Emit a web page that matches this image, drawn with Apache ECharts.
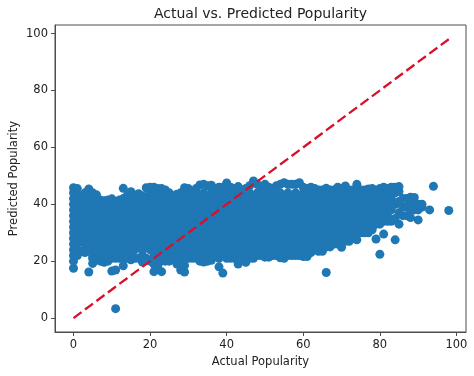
<!DOCTYPE html>
<html>
<head>
<meta charset="utf-8">
<style>
  html, body { margin: 0; padding: 0; background: #fff; }
  #chart { width: 474px; height: 376px; }
</style>
<script src="https://cdn.jsdelivr.net/npm/echarts@6/dist/echarts.min.js"></script>
</head>
<body>
<div id="chart"></div>
<script>
// tick labels of both axes
const xTicks = [0, 20, 40, 60, 80, 100];
const yTicks = [0, 20, 40, 60, 80, 100];

// reference line y = x, from lowest to highest actual value
const lineStart = [0, 0];
const lineEnd = [98, 98];

// actual popularity of each column of points
const actual = [
  0, 1, 2, 3, 4, 5, 6, 7, 8, 9,
  10, 11, 12, 13, 14, 15, 16, 17, 18, 19,
  20, 21, 22, 23, 24, 25, 26, 27, 28, 29,
  30, 31, 32, 33, 34, 35, 36, 37, 38, 39,
  40, 41, 42, 43, 44, 45, 46, 47, 48, 49,
  50, 51, 52, 53, 54, 55, 56, 57, 58, 59,
  60, 61, 62, 63, 64, 65, 66, 67, 68, 69,
  70, 71, 72, 73, 74, 75, 76, 77, 78, 79,
  80, 81, 82, 83, 84, 85, 86, 87, 88, 89,
  90, 91, 93, 94, 98
];

const predicted = [
  [17.5, 20, 22, 24, 26, 28, 30, 32, 34, 36, 38, 40, 42, 44, 45.8],
  [22, 26, 30, 34, 38, 42, 45.5],
  [23.5, 28, 32, 36, 40, 43],
  [23, 26, 30, 34, 38, 42, 44],
  [16.2, 24, 28, 32, 36, 40, 43, 45.4],
  [19.2, 21, 22, 26, 30, 34, 38, 42, 44],
  [21, 24, 28, 32, 36, 40, 43.3],
  [20, 22, 26, 30, 34, 38, 41.5],
  [19.6, 21.5, 24, 28, 32, 36, 40, 41.2],
  [20, 22, 26, 30, 34, 38, 41.5],
  [16.5, 21, 24, 28, 32, 36, 40, 41.9],
  [3.3, 16.9, 21, 22, 26, 30, 34, 38, 41],
  [21, 24, 28, 32, 36, 40, 41.5],
  [18.4, 21, 22, 26, 30, 34, 38, 42, 45.6],
  [21, 24, 28, 32, 36, 40, 43],
  [20.5, 22, 26, 30, 34, 38, 42, 44.4],
  [21, 24, 28, 32, 36, 40, 43],
  [21, 26, 30, 34, 38, 42, 43.7],
  [19.7, 22, 24, 28, 32, 36, 40, 43],
  [21, 26, 30, 34, 38, 42, 45.8],
  [20, 24, 28, 32, 36, 40, 44, 46],
  [16.3, 19, 22, 26, 30, 34, 38, 42, 46],
  [18, 21, 24, 28, 32, 36, 40, 44, 45.5],
  [16.3, 20, 22, 26, 30, 34, 38, 42, 45.5],
  [20, 24, 28, 32, 36, 40, 44, 45],
  [20, 22, 26, 30, 34, 38, 42, 44],
  [21, 24, 28, 32, 36, 40, 43],
  [19, 22, 26, 30, 34, 38, 42, 43.5],
  [16.9, 20, 24, 28, 32, 36, 40, 44],
  [16.2, 18.5, 22, 26, 30, 34, 38, 42, 45.8],
  [21, 24, 28, 32, 36, 40, 44, 45.5],
  [21, 22, 26, 30, 34, 38, 42, 44.5],
  [21, 24, 28, 32, 36, 40, 44, 45.5],
  [20, 22, 26, 30, 34, 38, 42, 46.8],
  [19.7, 24, 28, 32, 36, 40, 44, 47],
  [20, 22, 26, 30, 34, 38, 42, 46.5],
  [20.3, 24, 28, 32, 36, 40, 44, 46.7],
  [22, 26, 30, 34, 38, 42, 45.5],
  [18, 21, 24, 28, 32, 36, 40, 44, 46],
  [15.8, 22, 26, 30, 34, 38, 42, 46],
  [21, 24, 28, 32, 36, 40, 44, 47.5],
  [21, 22, 26, 30, 34, 38, 42, 46],
  [21, 24, 28, 32, 36, 40, 44, 45.5],
  [19, 22, 26, 30, 34, 38, 42, 46.2],
  [21, 24, 28, 32, 36, 40, 44, 45],
  [19.6, 22, 26, 30, 34, 38, 42, 45.5],
  [21, 24, 28, 32, 36, 40, 44, 46.5],
  [21, 22, 26, 30, 34, 38, 42, 48.2],
  [22, 24, 28, 32, 36, 40, 44, 47],
  [22, 26, 30, 34, 38, 42, 46],
  [21.4, 24, 28, 32, 36, 40, 44, 47],
  [21.4, 22, 26, 30, 34, 38, 42, 46],
  [22, 24, 28, 32, 36, 40, 44, 45.5],
  [22, 26, 30, 34, 38, 42, 46.5],
  [21.2, 24, 28, 32, 36, 40, 44, 47],
  [21, 22, 26, 30, 34, 38, 42, 47.6],
  [22, 24, 28, 32, 36, 40, 44, 47],
  [22, 26, 30, 34, 38, 42, 47],
  [22, 24, 28, 32, 36, 40, 44, 47],
  [22, 26, 30, 34, 38, 42, 47.6],
  [21.6, 24, 28, 32, 36, 40, 44, 46],
  [21.6, 22, 26, 30, 34, 38, 42, 45.5],
  [23, 24, 28, 32, 36, 40, 44, 46],
  [24, 26, 30, 34, 38, 42, 45.5],
  [23.5, 24, 28, 32, 36, 40, 44, 45],
  [23.5, 26, 30, 34, 38, 42, 45],
  [16, 25, 28, 32, 36, 40, 44, 45.6],
  [25, 26, 30, 34, 38, 42, 45],
  [26, 28, 32, 36, 40, 44, 45],
  [26, 30, 34, 38, 42, 46],
  [24.9, 28, 32, 36, 40, 44, 45.5],
  [27, 30, 34, 38, 42, 46.4],
  [27, 28, 32, 36, 40, 44, 45],
  [28, 30, 34, 38, 42, 45],
  [27.5, 30, 32, 36, 40, 44, 47],
  [30, 34, 38, 42, 45],
  [30, 32, 36, 40, 44, 45],
  [30, 34, 38, 42, 45.4],
  [31, 32, 36, 40, 44, 45.5],
  [27.8, 33, 34, 38, 42, 45],
  [22.4, 33, 36, 40, 44, 45.5],
  [29.5, 34, 38, 42, 46],
  [34, 36, 40, 44, 45.5],
  [34, 38, 42, 46],
  [27.5, 35, 40, 44, 46],
  [33, 37, 41, 44.5, 46.2],
  [36, 39, 42],
  [36, 39, 42],
  [35.3, 38, 41, 42.5],
  [38, 40, 42.4],
  [34.5, 38, 40],
  [39, 40],
  [38],
  [46.3],
  [37.8]
];

const points = [];
actual.forEach(function (a, i) {
  predicted[i].forEach(function (p) {
    points.push([a, p]);
  });
});

const chart = echarts.init(document.getElementById('chart'));

const fontFamily = '"DejaVu Sans", sans-serif';
const inkColor = '#222';
const frameColor = '#4d4d4d';

chart.setOption({
  animation: false,
  backgroundColor: '#fff',
  title: {
    text: 'Actual vs. Predicted Popularity',
    left: 255.5,
    top: 2,
    textAlign: 'center',
    textStyle: {
      fontFamily: fontFamily,
      fontSize: 14,
      fontWeight: 'normal',
      color: inkColor
    }
  },
  grid: {
    left: 55,
    right: 8,
    top: 25,
    bottom: 44,
    show: true,
    borderColor: frameColor,
    borderWidth: 1,
    outerBoundsMode: 'none'
  },
  xAxis: {
    type: 'value',
    min: -4.83,
    max: 102.5,
    name: 'Actual Popularity',
    nameLocation: 'middle',
    nameGap: 22,
    nameTextStyle: { fontFamily: fontFamily, fontSize: 11.5, color: inkColor },
    splitLine: { show: false },
    axisLine: { show: true, onZero: false, lineStyle: { color: frameColor } },
    axisTick: { show: true, length: 4, customValues: xTicks, lineStyle: { color: frameColor } },
    axisLabel: { customValues: xTicks, margin: 7, fontFamily: fontFamily, fontSize: 11.5, color: inkColor }
  },
  yAxis: {
    type: 'value',
    min: -4.9,
    max: 103,
    name: 'Predicted Popularity',
    nameLocation: 'middle',
    nameGap: 35,
    nameMoveOverlap: false,
    nameTextStyle: { fontFamily: fontFamily, fontSize: 11.5, color: inkColor },
    splitLine: { show: false },
    axisLine: { show: true, onZero: false, lineStyle: { color: frameColor } },
    axisTick: { show: true, length: 4, customValues: yTicks, lineStyle: { color: frameColor } },
    axisLabel: { customValues: yTicks, margin: 7, fontFamily: fontFamily, fontSize: 11.5, color: inkColor }
  },
  series: [
    {
      type: 'scatter',
      data: points,
      symbol: 'circle',
      symbolSize: 9,
      itemStyle: { color: '#1f77b4', opacity: 1 }
    },
    {
      type: 'line',
      data: [lineStart, lineEnd],
      symbol: 'none',
      z: 5,
      lineStyle: { color: '#d8102a', width: 2.3, type: [10, 4.3] }
    }
  ]
});
</script>
</body>
</html>
